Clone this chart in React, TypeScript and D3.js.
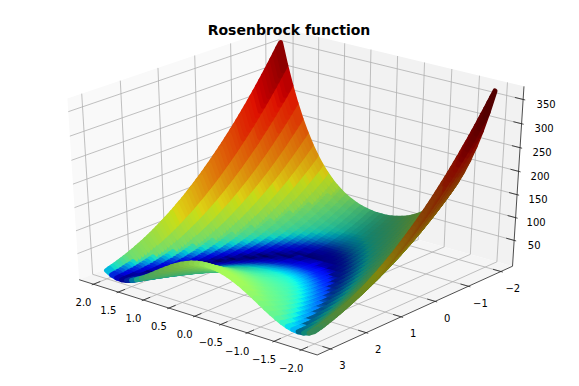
import React from "react";
import * as d3 from "d3";

const title = "Rosenbrock function";
const xValues = [-2,-1.9,-1.8,-1.7,-1.6,-1.5,-1.4,-1.3,-1.2,-1.1,-1,-0.9,-0.8,-0.7,-0.6,-0.5,-0.4,-0.3,-0.2,-0.1,0,0.1,0.2,0.3,0.4,0.5,0.6,0.7,0.8,0.9,1,1.1,1.2,1.3,1.4,1.5,1.6,1.7,1.8,1.9,2];
const yValues = [-2,-1.75,-1.5,-1.25,-1,-0.75,-0.5,-0.25,0,0.25,0.5,0.75,1,1.25,1.5,1.75,2,2.25,2.5,2.75,3];
const zRows = [
[369,339.6,311.5,284.6,259,234.6,211.5,189.6,169,149.6,131.5,114.6,99,84.6,71.5,59.6,49,39.6,31.5,24.6,19],
[323.1,295.7,269.5,244.6,220.9,198.5,177.3,157.4,138.7,121.3,105.1,90.2,76.5,64.1,52.9,43,34.3,26.9,20.7,15.8,12.1],
[282.4,256.8,232.5,209.4,187.6,167,147.7,129.6,112.8,97.2,82.9,69.8,58,47.4,38.1,30,23.2,17.6,13.3,10.2,8.4],
[246.4,222.6,200,178.7,158.6,139.8,122.2,105.9,90.8,77,64.4,53.1,43,34.2,26.6,20.3,15.2,11.4,8.8,7.5,7.4],
[214.7,192.6,171.6,152,133.5,116.4,100.4,85.8,72.3,60.2,49.2,39.6,31.1,24,18,13.4,9.9,7.8,6.8,7.2,8.7],
[186.9,166.3,146.9,128.8,111.9,96.3,81.9,68.8,56.9,46.3,36.9,28.8,21.9,16.3,11.9,8.8,6.9,6.3,6.9,8.8,11.9],
[162.6,143.4,125.5,108.8,93.4,79.2,66.3,54.6,44.2,35,27.1,20.4,15,10.8,7.9,6.2,5.8,6.6,8.7,12,16.6],
[141.5,123.6,107.1,91.7,77.7,64.8,53.3,42.9,33.9,26,19.5,14.1,10.1,7.2,5.7,5.3,6.3,8.4,11.9,16.5,22.5],
[123.1,106.6,91.2,77.2,64.3,52.8,42.4,33.4,25.5,19,13.6,9.6,6.7,5.2,4.8,5.8,7.9,11.4,16,22,29.1],
[107.4,92,77.8,64.9,53.2,42.8,33.6,25.7,19,13.6,9.4,6.5,4.8,4.4,5.2,7.3,10.6,15.2,21,28.1,36.4],
[94,79.6,66.5,54.6,44,34.6,26.5,19.6,14,9.6,6.5,4.6,4,4.6,6.5,9.6,14,19.6,26.5,34.6,44],
[82.6,69.1,57,46,36.4,27.9,20.8,14.8,10.2,6.7,4.6,3.6,4,5.5,8.4,12.4,17.8,24.3,32.2,41.2,51.6],
[72.9,60.3,49,38.9,30.1,22.5,16.2,11.1,7.3,4.7,3.4,3.3,4.5,6.9,10.6,15.5,21.7,29.1,37.8,47.7,58.9],
[64.9,53.1,42.5,33.2,25.1,18.3,12.7,8.4,5.3,3.5,2.9,3.6,5.5,8.7,13.1,18.8,25.7,33.9,43.3,54,65.9],
[58.3,47.1,37.2,28.5,21.1,14.9,10,6.3,3.9,2.7,2.8,4.1,6.7,10.5,15.6,21.9,29.5,38.3,48.4,59.7,72.3],
[52.9,42.3,32.9,24.8,17.9,12.3,7.9,4.8,2.9,2.3,2.9,4.8,7.9,12.3,17.9,24.8,32.9,42.3,52.9,64.8,77.9],
[48.6,38.4,29.5,21.8,15.4,10.2,6.3,3.6,2.2,2,3.1,5.4,9,13.8,19.9,27.2,35.8,45.6,56.7,69,82.6],
[45.4,35.6,27,19.7,13.6,8.8,5.2,2.9,1.8,2,3.4,6.1,10,15.2,21.6,29.3,38.2,48.4,59.8,72.5,86.4],
[43,33.4,25.1,18,12.2,7.6,4.3,2.2,1.4,1.8,3.5,6.4,10.6,16,22.7,30.6,39.8,50.2,61.9,74.8,89],
[41.6,32.2,24,17.1,11.4,7,3.8,1.9,1.2,1.8,3.6,6.7,11,16.6,23.4,31.5,40.8,51.4,63.2,76.3,90.6],
[41,31.6,23.5,16.6,11,6.6,3.5,1.6,1,1.6,3.5,6.6,11,16.6,23.5,31.6,41,51.6,63.5,76.6,91],
[41.2,31.8,23.6,16.7,11,6.6,3.4,1.5,0.8,1.4,3.2,6.3,10.6,16.2,23,31.1,40.4,51,62.8,75.9,90.2],
[42.2,32.6,24.3,17.2,11.4,6.8,3.5,1.4,0.6,1,2.7,5.6,9.8,15.2,21.9,29.8,39,49.4,61.1,74,88.2],
[44.2,34.4,25.8,18.5,12.4,7.6,4,1.7,0.6,0.8,2.2,4.9,8.8,14,20.4,28.1,37,47.2,58.6,71.3,85.2],
[47,36.8,27.9,20.2,13.8,8.6,4.7,2,0.6,0.4,1.5,3.8,7.4,12.2,18.3,25.6,34.2,44,55.1,67.4,81],
[50.9,40.3,30.9,22.8,15.9,10.3,5.9,2.8,0.9,0.3,0.9,2.8,5.9,10.3,15.9,22.8,30.9,40.3,50.9,62.8,75.9],
[55.9,44.7,34.8,26.1,18.7,12.5,7.6,3.9,1.5,0.3,0.4,1.7,4.3,8.1,13.2,19.5,27.1,35.9,46,57.3,69.9],
[62.1,50.3,39.7,30.4,22.3,15.5,9.9,5.6,2.5,0.7,0.1,0.8,2.7,5.9,10.3,16,22.9,31.1,40.5,51.2,63.1],
[69.7,57.1,45.8,35.7,26.9,19.3,13,7.9,4.1,1.5,0.2,0.1,1.3,3.7,7.4,12.3,18.5,25.9,34.6,44.5,55.7],
[79,65.5,53.4,42.4,32.8,24.3,17.2,11.2,6.6,3.1,1,0,0.4,1.9,4.8,8.8,14.2,20.7,28.6,37.6,48],
[90,75.6,62.5,50.6,40,30.6,22.5,15.6,10,5.6,2.5,0.6,0,0.6,2.5,5.6,10,15.6,22.5,30.6,40],
[103,87.6,73.4,60.5,48.8,38.4,29.2,21.3,14.6,9.2,5,2.1,0.4,0,0.8,2.9,6.2,10.8,16.6,23.7,32],
[118.3,101.8,86.4,72.4,59.5,48,37.6,28.6,20.7,14.2,8.8,4.8,1.9,0.4,0,1,3.1,6.6,11.2,17.2,24.3],
[136.3,118.4,101.9,86.5,72.5,59.6,48.1,37.7,28.7,20.8,14.3,8.9,4.9,2,0.5,0.1,1.1,3.2,6.7,11.3,17.3],
[157,137.8,119.9,103.2,87.8,73.6,60.7,49,38.6,29.4,21.5,14.8,9.4,5.2,2.3,0.6,0.2,1,3.1,6.4,11],
[180.9,160.3,140.9,122.8,105.9,90.3,75.9,62.8,50.9,40.3,30.9,22.8,15.9,10.3,5.9,2.8,0.9,0.3,0.9,2.8,5.9],
[208.3,186.2,165.2,145.6,127.1,110,94,79.4,65.9,53.8,42.8,33.2,24.7,17.6,11.6,7,3.5,1.4,0.4,0.8,2.3],
[239.6,215.8,193.2,171.9,151.8,133,115.4,99.1,84,70.2,57.6,46.3,36.2,27.4,19.8,13.5,8.4,4.6,2,0.7,0.6],
[275.2,249.6,225.3,202.2,180.4,159.8,140.5,122.4,105.6,90,75.7,62.6,50.8,40.2,30.9,22.8,16,10.4,6.1,3,1.2],
[315.5,288.1,261.9,237,213.3,190.9,169.7,149.8,131.1,113.7,97.5,82.6,68.9,56.5,45.3,35.4,26.7,19.3,13.1,8.2,4.5],
[361,331.6,303.5,276.6,251,226.6,203.5,181.6,161,141.6,123.5,106.6,91,76.6,63.5,51.6,41,31.6,23.5,16.6,11],
];
const xTicks = [2,1.5,1,0.5,0,-0.5,-1,-1.5,-2];
const xTickLabels = ["2.0","1.5","1.0","0.5","0.0","\u22120.5","\u22121.0","\u22121.5","\u22122.0"];
const yTicks = [-2,-1,0,1,2,3];
const yTickLabels = ["\u22122","\u22121","0","1","2","3"];
const zTicks = [50,100,150,200,250,300,350];
const zTickLabels = ["50","100","150","200","250","300","350"];

const colorLevels = [0.3,1,4,7,11,19,41,91,161,250,369];
const colorPositions = [0.03,0.07,0.16,0.25,0.32,0.38,0.45,0.56,0.67,0.76,0.87];
const colorEdgeBoost = 0.13;
const jetStops = [0,0.11,0.125,0.34,0.35,0.375,0.64,0.65,0.66,0.89,0.91,1];
const jetR = [0,0,0,0,0,0.0962,0.87,0.9,1,1,0.9,0.5];
const jetG = [0,0,0,0.86,0.9,1,1,1,0.95,0.08,0,0];
const jetB = [0.5,1,1,1,0.98,0.9,0.14,0.1,0.09,0,0,0];
const jetRScale = d3.scaleLinear().domain(jetStops).range(jetR).clamp(true);
const jetGScale = d3.scaleLinear().domain(jetStops).range(jetG).clamp(true);
const jetBScale = d3.scaleLinear().domain(jetStops).range(jetB).clamp(true);

const W = 579, H = 386;
const ELEV = (30 * Math.PI) / 180, AZIM = (130 * Math.PI) / 180, DIST = 10;
const PAD = 1 / 48;
const SUB = 3;

const ux = d3.scaleLinear().domain([-2.2, 2.2]).range([0, 1]);
const uy = d3.scaleLinear().domain([-2.25, 3.25]).range([0, 1]);
const uz = d3.scaleLinear().domain([0, 369]).range([0, 1]);
const sx = d3.scaleLinear().domain([0, 0.1]).range([297, 297 + 303]);
const sy = d3.scaleLinear().domain([0, 0.1]).range([185, 185 - 200]);
const logNorm = d3.scaleLog().domain(colorLevels).range(colorPositions).clamp(true);

const N = [Math.cos(AZIM) * Math.cos(ELEV), Math.sin(AZIM) * Math.cos(ELEV), Math.sin(ELEV)];
const U = [-Math.sin(AZIM), Math.cos(AZIM), 0];
const Vv = [N[1] * U[2] - N[2] * U[1], N[2] * U[0] - N[0] * U[2], N[0] * U[1] - N[1] * U[0]];
const dot = (a: number[], b: number[]) => a[0] * b[0] + a[1] * b[1] + a[2] * b[2];

function project(a: number, b: number, c: number) {
  const d = [a - 0.5, b - 0.5, c - 0.5];
  const ze = dot(N, d);
  const w = DIST - ze;
  return { x: sx(dot(U, d) / w), y: sy(dot(Vv, d) / w), depth: ze };
}
const lo = -PAD, hi = 1 + PAD;
const pathOf = (pts: number[][]) => {
  const ps = pts.map((p) => project(p[0], p[1], p[2]));
  return d3.line<any>().x((p) => p.x).y((p) => p.y)(ps)!;
};
const polyOf = (pts: number[][]) => pathOf(pts) + "Z";

type Facet = { d: string; depth: number; col: number[]; shade: number };
const facets: Facet[] = [];
for (let i = 0; i < xValues.length - 1; i++) {
  for (let j = 0; j < yValues.length - 1; j++) {
    const x0 = xValues[i], x1 = xValues[i + 1], ya = yValues[j], yb = yValues[j + 1];
    for (let s = 0; s < SUB; s++) {
      const f0 = s / SUB, f1 = (s + 1) / SUB;
      const y0 = d3.interpolateNumber(ya, yb)(f0), y1 = d3.interpolateNumber(ya, yb)(f1);
      const z00 = d3.interpolateNumber(zRows[i][j], zRows[i][j + 1])(f0);
      const z01 = d3.interpolateNumber(zRows[i][j], zRows[i][j + 1])(f1);
      const z10 = d3.interpolateNumber(zRows[i + 1][j], zRows[i + 1][j + 1])(f0);
      const z11 = d3.interpolateNumber(zRows[i + 1][j], zRows[i + 1][j + 1])(f1);
      const quad = [[x0, y0, z00], [x1, y0, z10], [x1, y1, z11], [x0, y1, z01]];
      const pr = quad.map((q) => project(ux(q[0]), uy(q[1]), uz(q[2])));
      const depth = d3.mean(pr, (p) => p.depth)!;
      const mean = (z00 + z10 + z11 + z01) / 4;
      const a = [x0 - x1, 0, (z00 + z01 - z10 - z11) / 2];
      const b = [0, y0 - y1, (z00 + z10 - z01 - z11) / 2];
      const n = [a[1] * b[2] - a[2] * b[1], a[2] * b[0] - a[0] * b[2], a[0] * b[1] - a[1] * b[0]];
      const len = Math.hypot(n[0], n[1], n[2]);
      const shade = dot(n, [-1, -1, 0.5]) / len;
      const t = logNorm(mean) + (colorEdgeBoost * Math.abs(x0 + x1)) / 4 * Math.min(1, mean / 20);
      facets.push({
        d: "M" + pr.map((p) => `${p.x.toFixed(2)},${p.y.toFixed(2)}`).join("L") + "Z",
        depth,
        col: [jetRScale(t), jetGScale(t), jetBScale(t)],
        shade,
      });
    }
  }
}
facets.sort((p, q) => p.depth - q.depth);
const shadeNorm = d3.scaleLinear().domain(d3.extent(facets, (f) => f.shade) as [number, number]).range([0.5, 1]);
const fill = (f: Facet) => {
  const k = shadeNorm(f.shade) * 255;
  return `rgb(${Math.round(f.col[0] * k)},${Math.round(f.col[1] * k)},${Math.round(f.col[2] * k)})`;
};

const GRID = "#b0b0b0";
const AXIS = "#222";
const font = "'DejaVu Sans', sans-serif";

export default function App() {
  const lzx = d3.scaleLinear().domain([50, 350]).range([20, 23]);
  return (
    <svg width={W} height={H} viewBox={`0 0 ${W} ${H}`} style={{ position: "absolute", left: 0, top: 0, display: "block" }}>
      <rect width={W} height={H} fill="#fff" />
      <path d={polyOf([[hi, lo, lo], [hi, hi, lo], [hi, hi, hi], [hi, lo, hi]])} fill="#f9f9f9" />
      <path d={polyOf([[lo, lo, lo], [hi, lo, lo], [hi, lo, hi], [lo, lo, hi]])} fill="#f2f2f2" />
      <path d={polyOf([[lo, lo, lo], [hi, lo, lo], [hi, hi, lo], [lo, hi, lo]])} fill="#f5f5f5" />
      <g fill="none" stroke={GRID} strokeWidth={0.8}>
        {xTicks.map((t) => <path key={"gx" + t} d={pathOf([[ux(t), hi, lo], [ux(t), lo, lo], [ux(t), lo, hi]])} />)}
        {yTicks.map((t) => <path key={"gy" + t} d={pathOf([[lo, uy(t), lo], [hi, uy(t), lo], [hi, uy(t), hi]])} />)}
        {zTicks.map((t) => <path key={"gz" + t} d={pathOf([[lo, lo, uz(t)], [hi, lo, uz(t)], [hi, hi, uz(t)]])} />)}
      </g>
      <g fill="none" stroke={AXIS} strokeWidth={0.8}>
        <path d={pathOf([[hi, hi, lo], [lo, hi, lo], [lo, lo, lo]])} />
        <path d={pathOf([[lo, lo, lo], [lo, lo, hi]])} />
        {xTicks.map((t) => <path key={"tx" + t} d={pathOf([[ux(t), hi - 2 * PAD * 0.8, lo], [ux(t), hi + PAD * 0.4, lo]])} />)}
        {yTicks.map((t) => <path key={"ty" + t} d={pathOf([[lo + 2 * PAD * 0.8, uy(t), lo], [lo - PAD * 0.4, uy(t), lo]])} />)}
        {zTicks.map((t) => <path key={"tz" + t} d={pathOf([[lo + 2 * PAD * 0.8, lo, uz(t)], [lo - PAD * 0.4, lo, uz(t)]])} />)}
      </g>
      <g fontFamily={font} fontSize={10} fill="#000" textAnchor="middle" dominantBaseline="central">
        {xTicks.map((t, i) => {
          const p = project(ux(t), hi, lo);
          return <text key={"lx" + t} x={p.x - 10} y={p.y + 18.5}>{xTickLabels[i]}</text>;
        })}
        {yTicks.map((t, i) => {
          const p = project(lo, uy(t), lo);
          return <text key={"ly" + t} x={p.x + 12} y={p.y + 17}>{yTickLabels[i]}</text>;
        })}
        {zTicks.map((t, i) => {
          const p = project(lo, lo, uz(t));
          return <text key={"lz" + t} x={p.x + lzx(t)} y={p.y + 5}>{zTickLabels[i]}</text>;
        })}
      </g>
      <g>
        {facets.map((f, i) => {
          const c = fill(f);
          return <path key={i} d={f.d} fill={c} stroke={c} strokeWidth={5} strokeLinejoin="round" />;
        })}
      </g>
      <text x={289} y={30} textAnchor="middle" dominantBaseline="central" fontFamily={font} fontSize={14} fontWeight="bold" fill="#000">{title}</text>
    </svg>
  );
}
